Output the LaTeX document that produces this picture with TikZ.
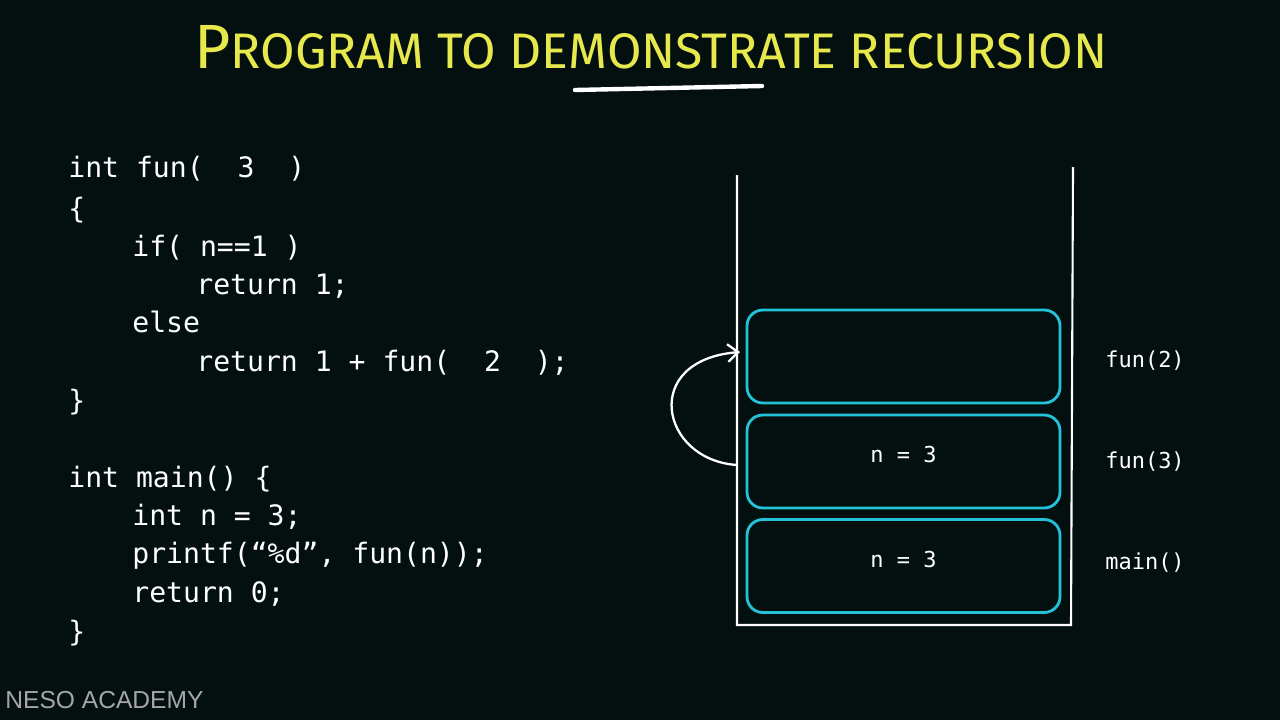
\documentclass[tikz,border=0pt]{standalone}
\usepackage{fontspec}
\setmainfont{DejaVu Sans Mono}
\newfontfamily\titlefont{Fira Sans}
\newfontfamily\nesofont{Liberation Sans}
\usetikzlibrary{arrows.meta}
\definecolor{bg}{HTML}{03100F}
\definecolor{ttl}{HTML}{E6E84C}
\definecolor{cyn}{HTML}{24C2D8}
\begin{document}
\begin{tikzpicture}[x=0.02cm,y=-0.02cm,
  code/.style={anchor=base west,inner sep=0,text=white,font=\fontsize{16}{18}\selectfont},
  lab/.style={anchor=base west,inner sep=0,text=white,font=\fontsize{12.5}{15}\selectfont},
  frame/.style={draw=cyn,line width=1.6pt,rounded corners=9pt,minimum width=313*0.02cm,minimum height=93*0.02cm},
  wall/.style={draw=white,line width=1.2pt}]
\fill[bg] (0,0) rectangle (1280,720);
\useasboundingbox (0,0) rectangle (1280,720);
\node[text=ttl,inner sep=0] (title) at (651,47) {\resizebox{18.26cm}{!}{\titlefont\fontsize{30}{30}\selectfont P{\fontsize{24}{24}\selectfont ROGRAM TO DEMONSTRATE RECURSION}}};
\coordinate (u1) at (575,90); \coordinate (u2) at (762,86);
\draw[white,line width=2.5pt,line cap=round] (u1) -- (u2);
% code
\node[code] (l1) at (68,177) {int fun(\ \ 3\ \ )};
\node[code] (l2) at (68,218) {\{};
\node[code] (l3) at (132,256) {if( n==1 )};
\node[code] (l4) at (196,294) {return 1;};
\node[code] (l5) at (132,332) {else};
\node[code] (l6) at (196,371) {return 1 + fun(\ \ 2\ \ );};
\node[code] (l7) at (68,410) {\}};
\node[code] (l8) at (68,487) {int main() \{};
\node[code] (l9) at (132,525) {int n = 3;};
\node[code] (l10) at (132,563) {printf(“\%d”, fun(n));};
\node[code] (l11) at (132,602) {return 0;};
\node[code] (l12) at (68,641) {\}};
% stack
\coordinate (wl) at (737,175); \coordinate (wr) at (1073,167);
\coordinate (bl) at (737,625); \coordinate (br) at (1071,625);
\draw[wall] (wl) -- (bl) -- (br) -- (wr);
\node[frame] (f2) at (903.5,356.5) {};
\node[frame] (f3) at (903.5,461.5) {};
\node[frame] (fm) at (903.5,566) {};
\node[lab,anchor=base] (v3) at (903.5,462) {n = 3};
\node[lab,anchor=base] (vm) at (903.5,567) {n = 3};
\node[lab] (t2) at (1105,367) {fun(2)};
\node[lab] (t3) at (1105,468) {fun(3)};
\node[lab] (tm) at (1105,569) {main()};
\coordinate (a1) at (737,465);
\coordinate (a2) at (740,352);
\draw[white,line width=1.3pt,-{Straight Barb[length=6pt,width=10pt]}] (a1) .. controls (660,460) and (640,360) .. (a2);
\node[text=gray!70,anchor=base west,inner sep=0,font=\nesofont\fontsize{14}{16}\selectfont] (neso) at (5,708) {NESO ACADEMY};
\end{tikzpicture}
\end{document}
